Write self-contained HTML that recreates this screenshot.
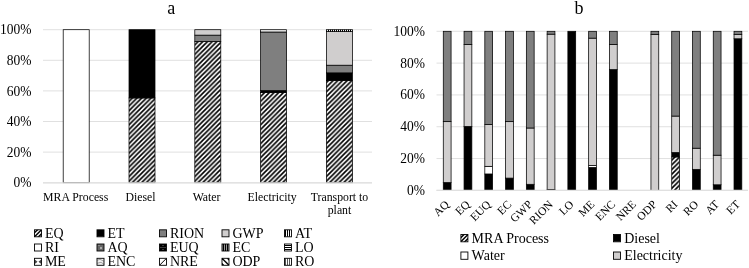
<!DOCTYPE html>
<html><head><meta charset="utf-8"><title>Chart</title>
<style>
html,body{margin:0;padding:0;background:#fff;}
body{width:749px;height:268px;overflow:hidden;font-family:"Liberation Serif", serif;}
svg{display:block;will-change:transform;}
</style></head><body>
<svg width="749" height="268" viewBox="0 0 749 268" font-family='"Liberation Serif", serif'>

<defs>
<pattern id="hatch" patternUnits="userSpaceOnUse" width="4.7" height="4.7">
 <rect width="4.7" height="4.7" fill="#fff"/>
 <path d="M-1,5.7 L5.7,-1 M-1,1 L1,-1 M3.7,5.7 L5.7,3.7" stroke="#000" stroke-width="1.6"/>
</pattern>
<pattern id="vert" patternUnits="userSpaceOnUse" width="2" height="2">
 <rect width="2" height="2" fill="#fff"/><rect width="1" height="2" fill="#000"/>
</pattern>
<pattern id="vert2" patternUnits="userSpaceOnUse" width="2" height="2">
 <rect width="2" height="2" fill="#ccc"/><rect width="1" height="2" fill="#000"/>
</pattern>
<pattern id="vert3" patternUnits="userSpaceOnUse" width="2" height="2">
 <rect width="2" height="2" fill="#fff"/><rect width="1" height="2" fill="#666"/>
</pattern>
<pattern id="horiz" patternUnits="userSpaceOnUse" width="2" height="2">
 <rect width="2" height="2" fill="#fff"/><rect width="2" height="1" fill="#000"/>
</pattern>
<pattern id="aq" patternUnits="userSpaceOnUse" width="3" height="3">
 <rect width="3" height="3" fill="#777"/><rect x="1" y="1" width="1" height="1" fill="#aaa"/>
</pattern>
<pattern id="euq" patternUnits="userSpaceOnUse" width="3" height="3">
 <rect width="3" height="3" fill="#000"/><rect x="1" y="1" width="1" height="1" fill="#888"/>
</pattern>
<pattern id="me" patternUnits="userSpaceOnUse" width="4" height="4">
 <rect width="4" height="4" fill="#fff"/><rect width="1" height="4" fill="#000"/>
</pattern>
<pattern id="enc" patternUnits="userSpaceOnUse" width="3" height="3">
 <rect width="3" height="3" fill="#fff"/><rect width="3" height="1" fill="#666"/><rect width="1" height="3" fill="#666"/>
</pattern>
<pattern id="ltup" patternUnits="userSpaceOnUse" width="8" height="8">
 <rect width="8" height="8" fill="#fff"/><path d="M0,8 L8,0" stroke="#000" stroke-width="1"/>
</pattern>
<pattern id="dndiag" patternUnits="userSpaceOnUse" width="8" height="8">
 <rect width="8" height="8" fill="#fff"/><path d="M0,0 L8,8" stroke="#000" stroke-width="1"/>
</pattern>
</defs>

<rect width="749" height="268" fill="#fff"/>
<line x1="43.0" y1="182.70" x2="372.0" y2="182.70" stroke="#e0e0e0" stroke-width="1"/>
<text transform="translate(31.50 187.35) scale(1.0 1.1)" font-size="13.5" text-anchor="end">0%</text>
<line x1="43.0" y1="152.10" x2="372.0" y2="152.10" stroke="#e0e0e0" stroke-width="1"/>
<text transform="translate(31.50 156.75) scale(1.0 1.1)" font-size="13.5" text-anchor="end">20%</text>
<line x1="43.0" y1="121.50" x2="372.0" y2="121.50" stroke="#e0e0e0" stroke-width="1"/>
<text transform="translate(31.50 126.15) scale(1.0 1.1)" font-size="13.5" text-anchor="end">40%</text>
<line x1="43.0" y1="90.90" x2="372.0" y2="90.90" stroke="#e0e0e0" stroke-width="1"/>
<text transform="translate(31.50 95.55) scale(1.0 1.1)" font-size="13.5" text-anchor="end">60%</text>
<line x1="43.0" y1="60.30" x2="372.0" y2="60.30" stroke="#e0e0e0" stroke-width="1"/>
<text transform="translate(31.50 64.95) scale(1.0 1.1)" font-size="13.5" text-anchor="end">80%</text>
<line x1="43.0" y1="29.70" x2="372.0" y2="29.70" stroke="#e0e0e0" stroke-width="1"/>
<text transform="translate(31.50 34.35) scale(1.0 1.1)" font-size="13.5" text-anchor="end">100%</text>
<line x1="436.5" y1="190.35" x2="748.0" y2="190.35" stroke="#e0e0e0" stroke-width="1"/>
<text transform="translate(425.00 194.90) scale(1.0 1.1)" font-size="13.5" text-anchor="end">0%</text>
<line x1="436.5" y1="158.54" x2="748.0" y2="158.54" stroke="#e0e0e0" stroke-width="1"/>
<text transform="translate(425.00 163.09) scale(1.0 1.1)" font-size="13.5" text-anchor="end">20%</text>
<line x1="436.5" y1="126.73" x2="748.0" y2="126.73" stroke="#e0e0e0" stroke-width="1"/>
<text transform="translate(425.00 131.28) scale(1.0 1.1)" font-size="13.5" text-anchor="end">40%</text>
<line x1="436.5" y1="94.92" x2="748.0" y2="94.92" stroke="#e0e0e0" stroke-width="1"/>
<text transform="translate(425.00 99.47) scale(1.0 1.1)" font-size="13.5" text-anchor="end">60%</text>
<line x1="436.5" y1="63.11" x2="748.0" y2="63.11" stroke="#e0e0e0" stroke-width="1"/>
<text transform="translate(425.00 67.66) scale(1.0 1.1)" font-size="13.5" text-anchor="end">80%</text>
<line x1="436.5" y1="31.30" x2="748.0" y2="31.30" stroke="#e0e0e0" stroke-width="1"/>
<text transform="translate(425.00 35.85) scale(1.0 1.1)" font-size="13.5" text-anchor="end">100%</text>
<text x="171.3" y="13.5" font-size="18" text-anchor="middle">a</text>
<text x="578.9" y="13.5" font-size="18" text-anchor="middle">b</text>
<rect x="63.20" y="29.70" width="26.00" height="153.00" fill="#fff" stroke="#000" stroke-width="0.75"/>
<text transform="translate(75.70 200.90) scale(1.0 1.1)" font-size="11.8" text-anchor="middle">MRA Process</text>
<rect x="129.00" y="97.94" width="26.00" height="84.76" fill="url(#hatch)" stroke="#000" stroke-width="0.75"/>
<rect x="129.00" y="29.70" width="26.00" height="68.24" fill="#000" stroke="#000" stroke-width="0.75"/>
<text transform="translate(140.50 200.90) scale(1.0 1.1)" font-size="11.8" text-anchor="middle">Diesel</text>
<rect x="194.80" y="41.40" width="26.00" height="141.30" fill="url(#hatch)" stroke="#000" stroke-width="0.75"/>
<rect x="194.80" y="35.13" width="26.00" height="6.27" fill="#7f7f7f" stroke="#000" stroke-width="0.75"/>
<rect x="194.80" y="29.70" width="26.00" height="5.43" fill="#d0cece" stroke="#000" stroke-width="0.75"/>
<text transform="translate(206.60 200.90) scale(1.0 1.1)" font-size="11.8" text-anchor="middle">Water</text>
<rect x="260.60" y="92.58" width="26.00" height="90.12" fill="url(#hatch)" stroke="#000" stroke-width="0.75"/>
<rect x="260.60" y="90.59" width="26.00" height="1.99" fill="#000" stroke="#000" stroke-width="0.75"/>
<rect x="260.60" y="31.99" width="26.00" height="58.60" fill="#7f7f7f" stroke="#000" stroke-width="0.75"/>
<rect x="260.60" y="29.70" width="26.00" height="2.29" fill="#eeeeee" stroke="#000" stroke-width="0.75"/>
<text transform="translate(272.10 200.90) scale(1.0 1.1)" font-size="11.8" text-anchor="middle">Electricity</text>
<rect x="326.40" y="80.50" width="26.00" height="102.20" fill="url(#hatch)" stroke="#000" stroke-width="0.75"/>
<rect x="326.40" y="72.85" width="26.00" height="7.65" fill="#000" stroke="#000" stroke-width="0.75"/>
<rect x="326.40" y="65.20" width="26.00" height="7.65" fill="#7f7f7f" stroke="#000" stroke-width="0.75"/>
<rect x="326.40" y="31.54" width="26.00" height="33.66" fill="#d0cece" stroke="#000" stroke-width="0.75"/>
<rect x="326.40" y="29.70" width="26.00" height="1.84" fill="url(#vert)" stroke="#000" stroke-width="0.75"/>
<text transform="translate(339.50 200.90) scale(1.0 1.1)" font-size="11.8" text-anchor="middle">Transport to</text>
<text transform="translate(339.50 214.10) scale(1.0 1.1)" font-size="11.8" text-anchor="middle">plant</text>
<rect x="443.28" y="182.56" width="7.80" height="7.79" fill="#000" stroke="#000" stroke-width="0.75"/>
<rect x="443.28" y="121.64" width="7.80" height="60.92" fill="#d0cece" stroke="#000" stroke-width="0.75"/>
<rect x="443.28" y="31.30" width="7.80" height="90.34" fill="#7f7f7f" stroke="#000" stroke-width="0.75"/>
<text x="449.88" y="205.00" font-size="11.5" text-anchor="end" transform="rotate(-45 449.88 205.00)">AQ</text>
<rect x="464.05" y="126.41" width="7.80" height="63.94" fill="#000" stroke="#000" stroke-width="0.75"/>
<rect x="464.05" y="44.50" width="7.80" height="81.91" fill="#d0cece" stroke="#000" stroke-width="0.75"/>
<rect x="464.05" y="31.30" width="7.80" height="13.20" fill="#7f7f7f" stroke="#000" stroke-width="0.75"/>
<text x="470.65" y="205.00" font-size="11.5" text-anchor="end" transform="rotate(-45 470.65 205.00)">EQ</text>
<rect x="484.82" y="173.97" width="7.80" height="16.38" fill="#000" stroke="#000" stroke-width="0.75"/>
<rect x="484.82" y="166.33" width="7.80" height="7.63" fill="#fff" stroke="#000" stroke-width="0.75"/>
<rect x="484.82" y="124.50" width="7.80" height="41.83" fill="#d0cece" stroke="#000" stroke-width="0.75"/>
<rect x="484.82" y="31.30" width="7.80" height="93.20" fill="#7f7f7f" stroke="#000" stroke-width="0.75"/>
<text x="491.42" y="205.00" font-size="11.5" text-anchor="end" transform="rotate(-45 491.42 205.00)">EUQ</text>
<rect x="505.58" y="178.10" width="7.80" height="12.25" fill="#000" stroke="#000" stroke-width="0.75"/>
<rect x="505.58" y="121.64" width="7.80" height="56.46" fill="#d0cece" stroke="#000" stroke-width="0.75"/>
<rect x="505.58" y="31.30" width="7.80" height="90.34" fill="#7f7f7f" stroke="#000" stroke-width="0.75"/>
<text x="512.18" y="205.00" font-size="11.5" text-anchor="end" transform="rotate(-45 512.18 205.00)">EC</text>
<rect x="526.35" y="184.31" width="7.80" height="6.04" fill="#000" stroke="#000" stroke-width="0.75"/>
<rect x="526.35" y="128.00" width="7.80" height="56.30" fill="#d0cece" stroke="#000" stroke-width="0.75"/>
<rect x="526.35" y="31.30" width="7.80" height="96.70" fill="#7f7f7f" stroke="#000" stroke-width="0.75"/>
<text x="532.95" y="205.00" font-size="11.5" text-anchor="end" transform="rotate(-45 532.95 205.00)">GWP</text>
<rect x="547.12" y="189.55" width="7.80" height="0.80" fill="#000" stroke="#000" stroke-width="0.75"/>
<rect x="547.12" y="34.16" width="7.80" height="155.39" fill="#d0cece" stroke="#000" stroke-width="0.75"/>
<rect x="547.12" y="31.30" width="7.80" height="2.86" fill="#7f7f7f" stroke="#000" stroke-width="0.75"/>
<text x="553.72" y="205.00" font-size="11.5" text-anchor="end" transform="rotate(-45 553.72 205.00)">RION</text>
<rect x="567.88" y="31.30" width="7.80" height="159.05" fill="#000" stroke="#000" stroke-width="0.75"/>
<text x="574.48" y="205.00" font-size="11.5" text-anchor="end" transform="rotate(-45 574.48 205.00)">LO</text>
<rect x="588.65" y="167.45" width="7.80" height="22.90" fill="#000" stroke="#000" stroke-width="0.75"/>
<rect x="588.65" y="165.54" width="7.80" height="1.91" fill="#fff" stroke="#000" stroke-width="0.75"/>
<rect x="588.65" y="38.14" width="7.80" height="127.40" fill="#d0cece" stroke="#000" stroke-width="0.75"/>
<rect x="588.65" y="31.30" width="7.80" height="6.84" fill="#7f7f7f" stroke="#000" stroke-width="0.75"/>
<text x="595.25" y="205.00" font-size="11.5" text-anchor="end" transform="rotate(-45 595.25 205.00)">ME</text>
<rect x="609.42" y="69.63" width="7.80" height="120.72" fill="#000" stroke="#000" stroke-width="0.75"/>
<rect x="609.42" y="44.50" width="7.80" height="25.13" fill="#d0cece" stroke="#000" stroke-width="0.75"/>
<rect x="609.42" y="31.30" width="7.80" height="13.20" fill="#7f7f7f" stroke="#000" stroke-width="0.75"/>
<text x="616.02" y="205.00" font-size="11.5" text-anchor="end" transform="rotate(-45 616.02 205.00)">ENC</text>
<text x="636.78" y="205.00" font-size="11.5" text-anchor="end" transform="rotate(-45 636.78 205.00)">NRE</text>
<rect x="650.95" y="34.32" width="7.80" height="156.03" fill="#d0cece" stroke="#000" stroke-width="0.75"/>
<rect x="650.95" y="31.30" width="7.80" height="3.02" fill="#7f7f7f" stroke="#000" stroke-width="0.75"/>
<text x="657.55" y="205.00" font-size="11.5" text-anchor="end" transform="rotate(-45 657.55 205.00)">ODP</text>
<rect x="671.72" y="156.95" width="7.80" height="33.40" fill="url(#hatch)" stroke="#000" stroke-width="0.75"/>
<rect x="671.72" y="152.50" width="7.80" height="4.45" fill="#000" stroke="#000" stroke-width="0.75"/>
<rect x="671.72" y="116.07" width="7.80" height="36.42" fill="#d0cece" stroke="#000" stroke-width="0.75"/>
<rect x="671.72" y="31.30" width="7.80" height="84.77" fill="#7f7f7f" stroke="#000" stroke-width="0.75"/>
<text x="678.32" y="205.00" font-size="11.5" text-anchor="end" transform="rotate(-45 678.32 205.00)">RI</text>
<rect x="692.48" y="169.36" width="7.80" height="20.99" fill="#000" stroke="#000" stroke-width="0.75"/>
<rect x="692.48" y="148.20" width="7.80" height="21.15" fill="#d0cece" stroke="#000" stroke-width="0.75"/>
<rect x="692.48" y="31.30" width="7.80" height="116.90" fill="#7f7f7f" stroke="#000" stroke-width="0.75"/>
<text x="699.08" y="205.00" font-size="11.5" text-anchor="end" transform="rotate(-45 699.08 205.00)">RO</text>
<rect x="713.25" y="184.78" width="7.80" height="5.57" fill="#000" stroke="#000" stroke-width="0.75"/>
<rect x="713.25" y="155.20" width="7.80" height="29.58" fill="#d0cece" stroke="#000" stroke-width="0.75"/>
<rect x="713.25" y="31.30" width="7.80" height="123.90" fill="#7f7f7f" stroke="#000" stroke-width="0.75"/>
<text x="719.85" y="205.00" font-size="11.5" text-anchor="end" transform="rotate(-45 719.85 205.00)">AT</text>
<rect x="734.02" y="38.78" width="7.80" height="151.57" fill="#000" stroke="#000" stroke-width="0.75"/>
<rect x="734.02" y="34.32" width="7.80" height="4.45" fill="#d0cece" stroke="#000" stroke-width="0.75"/>
<rect x="734.02" y="31.30" width="7.80" height="3.02" fill="#7f7f7f" stroke="#000" stroke-width="0.75"/>
<text x="740.62" y="205.00" font-size="11.5" text-anchor="end" transform="rotate(-45 740.62 205.00)">ET</text>
<line x1="43.0" y1="182.90" x2="372.0" y2="182.90" stroke="#e0e0e0" stroke-width="1.2"/>
<line x1="436.5" y1="190.45" x2="748.0" y2="190.45" stroke="#e0e0e0" stroke-width="1.2"/>
<clipPath id="c109"><rect x="34.5" y="229.8" width="7" height="7"/></clipPath>
<g clip-path="url(#c109)">
<rect x="34.50" y="229.80" width="7.00" height="7.00" fill="#fff"/>
<line x1="28.00" y1="239.30" x2="40.00" y2="227.30" stroke="#000" stroke-width="1.45"/>
<line x1="32.00" y1="239.30" x2="44.00" y2="227.30" stroke="#000" stroke-width="1.45"/>
<line x1="36.00" y1="239.30" x2="48.00" y2="227.30" stroke="#000" stroke-width="1.45"/>
</g>
<rect x="34.5" y="229.8" width="7" height="7" fill="none" stroke="#000" stroke-width="0.9"/>
<text transform="translate(44.90 237.50) scale(1.0 1.05)" font-size="14.0">EQ</text>
<clipPath id="c118"><rect x="97.0" y="229.8" width="7" height="7"/></clipPath>
<g clip-path="url(#c118)">
<rect x="97.00" y="229.80" width="7.00" height="7.00" fill="#fff"/>
<rect x="97.00" y="229.80" width="7.00" height="7.00" fill="#000"/>
</g>
<rect x="97.0" y="229.8" width="7" height="7" fill="none" stroke="#000" stroke-width="0.9"/>
<text transform="translate(107.40 237.50) scale(1.0 1.05)" font-size="14.0">ET</text>
<clipPath id="c125"><rect x="159.5" y="229.8" width="7" height="7"/></clipPath>
<g clip-path="url(#c125)">
<rect x="159.50" y="229.80" width="7.00" height="7.00" fill="#fff"/>
<rect x="159.50" y="229.80" width="7.00" height="7.00" fill="#7f7f7f"/>
</g>
<rect x="159.5" y="229.8" width="7" height="7" fill="none" stroke="#000" stroke-width="0.9"/>
<text transform="translate(169.90 237.50) scale(1.0 1.05)" font-size="14.0">RION</text>
<clipPath id="c132"><rect x="222.0" y="229.8" width="7" height="7"/></clipPath>
<g clip-path="url(#c132)">
<rect x="222.00" y="229.80" width="7.00" height="7.00" fill="#fff"/>
<rect x="222.00" y="229.80" width="7.00" height="7.00" fill="#d0cece"/>
</g>
<rect x="222.0" y="229.8" width="7" height="7" fill="none" stroke="#000" stroke-width="0.9"/>
<text transform="translate(232.40 237.50) scale(1.0 1.05)" font-size="14.0">GWP</text>
<clipPath id="c139"><rect x="284.5" y="229.8" width="7" height="7"/></clipPath>
<g clip-path="url(#c139)">
<rect x="284.50" y="229.80" width="7.00" height="7.00" fill="#fff"/>
<rect x="285.00" y="229.80" width="1.00" height="7.00" fill="#000"/>
<rect x="287.00" y="229.80" width="1.00" height="7.00" fill="#000"/>
<rect x="289.00" y="229.80" width="1.00" height="7.00" fill="#000"/>
</g>
<rect x="284.5" y="229.8" width="7" height="7" fill="none" stroke="#000" stroke-width="0.9"/>
<text transform="translate(294.90 237.50) scale(1.0 1.05)" font-size="14.0">AT</text>
<clipPath id="c148"><rect x="34.5" y="244.0" width="7" height="7"/></clipPath>
<g clip-path="url(#c148)">
<rect x="34.50" y="244.00" width="7.00" height="7.00" fill="#fff"/>
</g>
<rect x="34.5" y="244.0" width="7" height="7" fill="none" stroke="#000" stroke-width="0.9"/>
<text transform="translate(44.90 251.70) scale(1.0 1.05)" font-size="14.0">RI</text>
<clipPath id="c154"><rect x="97.0" y="244.0" width="7" height="7"/></clipPath>
<g clip-path="url(#c154)">
<rect x="97.00" y="244.00" width="7.00" height="7.00" fill="#fff"/>
<rect x="97.00" y="244.00" width="7.00" height="7.00" fill="#666"/>
<rect x="100.00" y="247.00" width="2.00" height="2.00" fill="#aaa"/>
<rect x="98.00" y="245.00" width="2.00" height="1.00" fill="#888"/>
</g>
<rect x="97.0" y="244.0" width="7" height="7" fill="none" stroke="#000" stroke-width="0.9"/>
<text transform="translate(107.40 251.70) scale(1.0 1.05)" font-size="14.0">AQ</text>
<clipPath id="c163"><rect x="159.5" y="244.0" width="7" height="7"/></clipPath>
<g clip-path="url(#c163)">
<rect x="159.50" y="244.00" width="7.00" height="7.00" fill="#fff"/>
<rect x="159.50" y="244.00" width="7.00" height="7.00" fill="#000"/>
<rect x="162.50" y="245.00" width="1.00" height="1.00" fill="#777"/>
<rect x="162.50" y="247.00" width="1.00" height="1.00" fill="#777"/>
<rect x="160.50" y="247.00" width="1.00" height="1.00" fill="#777"/>
<rect x="164.50" y="247.00" width="1.00" height="1.00" fill="#777"/>
<rect x="162.50" y="249.00" width="1.00" height="1.00" fill="#777"/>
</g>
<rect x="159.5" y="244.0" width="7" height="7" fill="none" stroke="#000" stroke-width="0.9"/>
<text transform="translate(169.90 251.70) scale(1.0 1.05)" font-size="14.0">EUQ</text>
<clipPath id="c175"><rect x="222.0" y="244.0" width="7" height="7"/></clipPath>
<g clip-path="url(#c175)">
<rect x="222.00" y="244.00" width="7.00" height="7.00" fill="#fff"/>
<rect x="222.00" y="244.00" width="7.00" height="7.00" fill="#999"/>
<rect x="223.00" y="244.00" width="1.00" height="7.00" fill="#000"/>
<rect x="225.00" y="244.00" width="1.00" height="7.00" fill="#000"/>
<rect x="227.00" y="244.00" width="1.00" height="7.00" fill="#000"/>
</g>
<rect x="222.0" y="244.0" width="7" height="7" fill="none" stroke="#000" stroke-width="0.9"/>
<text transform="translate(232.40 251.70) scale(1.0 1.05)" font-size="14.0">EC</text>
<clipPath id="c185"><rect x="284.5" y="244.0" width="7" height="7"/></clipPath>
<g clip-path="url(#c185)">
<rect x="284.50" y="244.00" width="7.00" height="7.00" fill="#fff"/>
<rect x="284.50" y="245.00" width="7.00" height="1.00" fill="#000"/>
<rect x="284.50" y="247.00" width="7.00" height="1.00" fill="#000"/>
<rect x="284.50" y="249.00" width="7.00" height="1.00" fill="#000"/>
</g>
<rect x="284.5" y="244.0" width="7" height="7" fill="none" stroke="#000" stroke-width="0.9"/>
<text transform="translate(294.90 251.70) scale(1.0 1.05)" font-size="14.0">LO</text>
<clipPath id="c194"><rect x="34.5" y="258.3" width="7" height="7"/></clipPath>
<g clip-path="url(#c194)">
<rect x="34.50" y="258.30" width="7.00" height="7.00" fill="#fff"/>
<path d="M34.5,259.3 L37.5,261.8 L34.5,264.3 Z M41.5,259.3 L38.5,261.8 L41.5,264.3 Z" fill="#444"/>
</g>
<rect x="34.5" y="258.3" width="7" height="7" fill="none" stroke="#000" stroke-width="0.9"/>
<text transform="translate(44.90 266.00) scale(1.0 1.05)" font-size="14.0">ME</text>
<clipPath id="c201"><rect x="97.0" y="258.3" width="7" height="7"/></clipPath>
<g clip-path="url(#c201)">
<rect x="97.00" y="258.30" width="7.00" height="7.00" fill="#fff"/>
<rect x="97.00" y="258.30" width="7.00" height="7.00" fill="#f0f0f0"/>
<path d="M97.0,260.3 L100.0,259.3 L104.0,261.3 M97.0,263.3 L101.0,262.3 L104.0,264.3" stroke="#999" stroke-width="0.9" fill="none"/>
</g>
<rect x="97.0" y="258.3" width="7" height="7" fill="none" stroke="#000" stroke-width="0.9"/>
<text transform="translate(107.40 266.00) scale(1.0 1.05)" font-size="14.0">ENC</text>
<clipPath id="c209"><rect x="159.5" y="258.3" width="7" height="7"/></clipPath>
<g clip-path="url(#c209)">
<rect x="159.50" y="258.30" width="7.00" height="7.00" fill="#fff"/>
<line x1="159.5" y1="265.3" x2="166.5" y2="258.3" stroke="#000" stroke-width="1"/>
</g>
<rect x="159.5" y="258.3" width="7" height="7" fill="none" stroke="#000" stroke-width="0.9"/>
<text transform="translate(169.90 266.00) scale(1.0 1.05)" font-size="14.0">NRE</text>
<clipPath id="c216"><rect x="222.0" y="258.3" width="7" height="7"/></clipPath>
<g clip-path="url(#c216)">
<rect x="222.00" y="258.30" width="7.00" height="7.00" fill="#fff"/>
<line x1="222.0" y1="258.3" x2="229.0" y2="265.3" stroke="#000" stroke-width="1.4"/>
<path d="M226.5,258.3 L229.0,258.3 L229.0,260.8 Z M222.0,262.8 L222.0,265.3 L224.5,265.3 Z" fill="#000"/>
</g>
<rect x="222.0" y="258.3" width="7" height="7" fill="none" stroke="#000" stroke-width="0.9"/>
<text transform="translate(232.40 266.00) scale(1.0 1.05)" font-size="14.0">ODP</text>
<clipPath id="c224"><rect x="284.5" y="258.3" width="7" height="7"/></clipPath>
<g clip-path="url(#c224)">
<rect x="284.50" y="258.30" width="7.00" height="7.00" fill="#fff"/>
<rect x="285.00" y="258.30" width="1.00" height="7.00" fill="#555"/>
<rect x="287.00" y="258.30" width="1.00" height="7.00" fill="#555"/>
<rect x="289.00" y="258.30" width="1.00" height="7.00" fill="#555"/>
</g>
<rect x="284.5" y="258.3" width="7" height="7" fill="none" stroke="#000" stroke-width="0.9"/>
<text transform="translate(294.90 266.00) scale(1.0 1.05)" font-size="14.0">RO</text>
<clipPath id="c233"><rect x="460.9" y="234.5" width="7" height="7.3"/></clipPath>
<g clip-path="url(#c233)">
<rect x="460.90" y="234.50" width="7.00" height="7.30" fill="#fff"/>
<line x1="454.40" y1="244.15" x2="466.40" y2="232.15" stroke="#000" stroke-width="1.45"/>
<line x1="458.40" y1="244.15" x2="470.40" y2="232.15" stroke="#000" stroke-width="1.45"/>
<line x1="462.40" y1="244.15" x2="474.40" y2="232.15" stroke="#000" stroke-width="1.45"/>
</g>
<rect x="460.9" y="234.5" width="7" height="7.3" fill="none" stroke="#000" stroke-width="0.9"/>
<text x="471.60" y="242.60" font-size="14.0">MRA Process</text>
<clipPath id="c242"><rect x="613.5" y="234.5" width="7" height="7.3"/></clipPath>
<g clip-path="url(#c242)">
<rect x="613.50" y="234.50" width="7.00" height="7.30" fill="#fff"/>
<rect x="613.50" y="234.50" width="7.00" height="7.30" fill="#000"/>
</g>
<rect x="613.5" y="234.5" width="7" height="7.3" fill="none" stroke="#000" stroke-width="0.9"/>
<text x="624.20" y="242.60" font-size="14.0">Diesel</text>
<clipPath id="c249"><rect x="460.9" y="252.00000000000003" width="7" height="7.3"/></clipPath>
<g clip-path="url(#c249)">
<rect x="460.90" y="252.00" width="7.00" height="7.30" fill="#fff"/>
</g>
<rect x="460.9" y="252.00000000000003" width="7" height="7.3" fill="none" stroke="#000" stroke-width="0.9"/>
<text x="471.60" y="260.10" font-size="14.0">Water</text>
<clipPath id="c255"><rect x="613.5" y="252.00000000000003" width="7" height="7.3"/></clipPath>
<g clip-path="url(#c255)">
<rect x="613.50" y="252.00" width="7.00" height="7.30" fill="#fff"/>
<rect x="613.50" y="252.00" width="7.00" height="7.30" fill="#d0cece"/>
</g>
<rect x="613.5" y="252.00000000000003" width="7" height="7.3" fill="none" stroke="#000" stroke-width="0.9"/>
<text x="624.20" y="260.10" font-size="14.0">Electricity</text>
</svg>
</body></html>
